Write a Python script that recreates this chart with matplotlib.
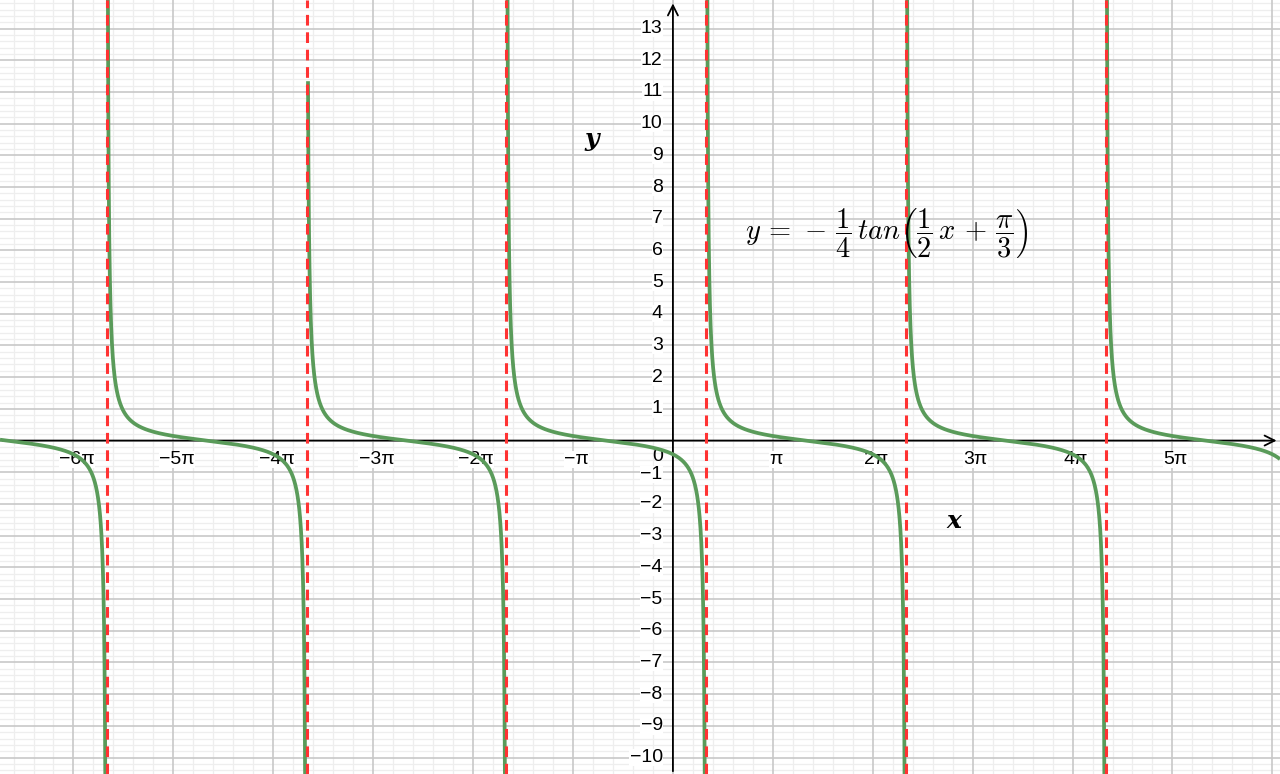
import matplotlib.pyplot as plt
import numpy as np

# function y = a * tan(b*x + c)
amp = -0.25
freq = 0.5
phase = np.pi / 3

x_min, x_max = -21.16, 19.09
y_min, y_max = -10.52, 13.90

x_tick_mult = [-6, -5, -4, -3, -2, -1, 1, 2, 3, 4, 5]
x_tick_text = ["−6π", "−5π", "−4π", "−3π", "−2π", "−π", "π", "2π", "3π", "4π", "5π"]
y_ticks = [-10, -9, -8, -7, -6, -5, -4, -3, -2, -1, 1, 2, 3, 4, 5, 6, 7, 8, 9, 10, 11, 12, 13]

# asymptote index k -> x = pi/3 + 2k*pi
asym_k = [-3, -2, -1, 0, 1, 2]
# top of the branch right of each asymptote (GeoGebra sampling cut one short)
branch_top = [None, 11.5, None, None, None, None]

green = "#5a9b5a"
red = "#ff3333"

fig = plt.figure(figsize=(12.8, 7.74), dpi=100)
ax = fig.add_axes([0, 0, 1, 1])
ax.set_xlim(x_min, x_max)
ax.set_ylim(y_min, y_max)
ax.axis("off")

# grid
for k in range(-40, 40):
    xv = k * np.pi / 5
    if x_min < xv < x_max:
        if k % 5 == 0:
            ax.axvline(xv, color="#c8c8c8", lw=1.2, zorder=1)
        else:
            ax.axvline(xv, color="#eeeeee", lw=0.9, zorder=0)
for k in range(-60, 75):
    yv = k / 5
    if y_min < yv < y_max:
        if k % 5 == 0:
            ax.axhline(yv, color="#c8c8c8", lw=1.2, zorder=1)
        else:
            ax.axhline(yv, color="#eeeeee", lw=0.9, zorder=0)

# axes with arrows
ax.annotate("", xy=(x_max - 0.02, 0), xytext=(x_min, 0),
            arrowprops=dict(arrowstyle="->", lw=1.3, color="black", mutation_scale=18), zorder=3)
ax.annotate("", xy=(0, y_max - 0.02), xytext=(0, y_min),
            arrowprops=dict(arrowstyle="->", lw=1.3, color="black", mutation_scale=18), zorder=3)

# tick labels
fs = 14
box = dict(facecolor="white", edgecolor="none", pad=0.1)
for m, t in zip(x_tick_mult, x_tick_text):
    ax.text(m * np.pi + 0.1, -0.6, t, ha="center", va="center", fontsize=fs,
            family="Liberation Sans", bbox=box, zorder=4)
for v in y_ticks:
    yl = v - 0.08 if v == -1 else v
    ax.text(-0.32, yl, "−%d" % -v if v < 0 else str(v), ha="right", va="center",
            fontsize=fs, family="Liberation Sans", bbox=box, zorder=4)
ax.text(-0.32, -0.5, "0", ha="right", va="center", fontsize=fs,
        family="Liberation Sans", zorder=4.5)

# curve branches
asym = [np.pi / 3 + 2 * k * np.pi for k in asym_k]
edges = [x_min] + asym + [x_max]
tops = [None] + branch_top
eps = 1e-4
for i in range(len(edges) - 1):
    lo, hi = edges[i], edges[i + 1]
    xs = np.linspace(lo + (eps if i > 0 else 0), hi - (eps if i < len(edges) - 2 else 0), 4000)
    ys = amp * np.tan(freq * xs + phase)
    top = tops[i] if tops[i] is not None else y_max + 1
    keep = (ys <= top) & (ys >= y_min - 1)
    ax.plot(xs[keep], ys[keep], color=green, lw=2.7, zorder=5, solid_capstyle="butt")

for a in asym:
    ax.axvline(a, color=red, lw=2.2, ls=(0, (3.5, 2.2)), zorder=6)

# labels
ax.text(-2.52, 9.45, r"$\boldsymbol{y}$", fontsize=18, ha="center", va="center",
        math_fontfamily="dejavuserif")
ax.text(8.87, -2.54, r"$\boldsymbol{x}$", fontsize=18, ha="center", va="center",
        math_fontfamily="dejavuserif")
ax.text(6.73, 6.55,
        r"$y\,=\,-\,\dfrac{1}{4}\,tan\left(\dfrac{1}{2}\,x\,+\,\dfrac{\pi}{3}\right)$",
        fontsize=20.5, ha="center", va="center", math_fontfamily="cm", zorder=7)

fig.savefig("out.png", dpi=100)
